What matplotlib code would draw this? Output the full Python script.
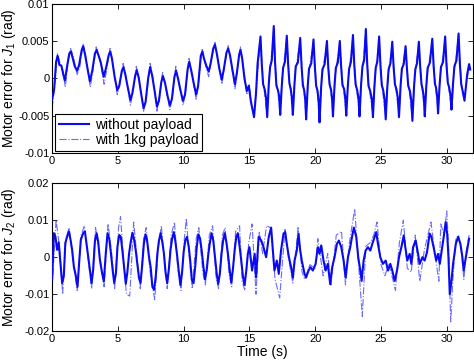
import numpy as np
import matplotlib
matplotlib.use("Agg")
import matplotlib.pyplot as plt

plt.rcParams['font.family'] = ['Liberation Sans', 'DejaVu Sans']
plt.rcParams['mathtext.fontset'] = 'custom'
plt.rcParams['mathtext.rm'] = 'Liberation Sans'
plt.rcParams['mathtext.it'] = 'Liberation Sans:italic'

# ---------------- Joint 1, without payload ----------------
t1 = [0.0, 0.15, 0.3, 0.42, 0.55, 0.7, 0.85, 0.97, 1.1, 1.3, 1.42, 1.55, 1.72, 1.9, 2.05, 2.25,
      2.36, 2.5, 2.7, 2.87, 3.05, 3.25, 3.38, 3.52, 3.7, 3.92, 4.1, 4.3, 4.42, 4.55, 4.75, 4.95,
      5.1, 5.3, 5.42, 5.55, 5.75, 5.95, 6.1, 6.3, 6.43, 6.58, 6.78, 6.95, 7.1, 7.3, 7.45, 7.6,
      7.8, 7.97, 8.12, 8.3, 8.42, 8.58, 8.78, 8.95, 9.1, 9.3, 9.42, 9.58, 9.78, 9.95, 10.1, 10.3,
      10.42, 10.58, 10.78, 10.95, 11.1, 11.3, 11.42, 11.55, 11.72, 11.9, 12.05, 12.25, 12.38,
      12.52, 12.72, 12.9, 13.05, 13.25, 13.38, 13.52, 13.72, 13.9, 14.05, 14.22, 14.32, 14.45,
      14.62, 14.8, 14.95, 15.1, 15.35, 15.5, 15.62,
      15.84, 15.94, 16.04, 16.16, 16.26, 16.35, 16.47, 16.57, 16.7,
      16.85, 16.95, 17.05, 17.17, 17.26, 17.34, 17.46, 17.56, 17.7,
      17.84, 17.94, 18.04, 18.14, 18.22, 18.3, 18.42, 18.52, 18.68,
      18.86, 18.96, 19.06, 19.16, 19.24, 19.31, 19.43, 19.53, 19.7,
      19.87, 19.97, 20.07, 20.18, 20.26, 20.33, 20.45, 20.55, 20.72,
      20.89, 20.99, 21.09, 21.2, 21.28, 21.35, 21.47, 21.57, 21.72,
      21.87, 21.97, 22.07, 22.19, 22.28, 22.36, 22.48, 22.58, 22.72,
      22.87, 22.97, 23.07, 23.19, 23.29, 23.37, 23.49, 23.59, 23.72,
      23.85, 23.95, 24.05, 24.18, 24.3, 24.39, 24.5, 24.6, 24.72,
      24.86, 24.96, 25.06, 25.17, 25.27, 25.36, 25.48, 25.58, 25.72,
      25.86, 25.96, 26.06, 26.18, 26.28, 26.37, 26.49, 26.59, 26.73,
      26.87, 26.97, 27.07, 27.2, 27.3, 27.39, 27.51, 27.61, 27.74,
      27.88, 27.98, 28.08, 28.17, 28.26, 28.33, 28.45, 28.55, 28.72,
      28.9, 29.0, 29.1, 29.19, 29.27, 29.34, 29.46, 29.56, 29.72,
      29.88, 29.98, 30.08, 30.18, 30.28, 30.36, 30.48, 30.58, 30.74,
      30.9, 31.0, 31.1, 31.22, 31.35, 31.45, 31.55, 31.7, 31.78]
j1_no_load = [-0.0028, -0.0015, 0.0022, 0.0030, 0.0018, 0.0017, 0.0005, -0.0003, 0.0012, 0.0033,
              0.0036, 0.0028, 0.0016, 0.0010, 0.0018, 0.0038, 0.0043, 0.0032, 0.0012, -0.0004,
              0.0010, 0.0033, 0.0038, 0.0031, 0.0021, 0.0002, 0.0014, 0.0031, 0.0036, 0.0026,
              0.0002, -0.0016, -0.0010, 0.0010, 0.0015, 0.0006, -0.0012, -0.0029, -0.0020,
              0.0002, 0.0011, 0.0001, -0.0022, -0.0040, -0.0032, 0.0000, 0.0015, 0.0004,
              -0.0018, -0.0038, -0.0030, -0.0005, 0.0003, -0.0006, -0.0024, -0.0036, -0.0028,
              0.0002, 0.0010, -0.0001, -0.0018, -0.0030, -0.0022, 0.0012, 0.0022, 0.0010,
              -0.0008, -0.0022, -0.0010, 0.0030, 0.0036, 0.0026, 0.0017, 0.0009, 0.0020,
              0.0040, 0.0045, 0.0033, 0.0012, -0.0002, 0.0012, 0.0034, 0.0040, 0.0031, 0.0010,
              -0.0008, 0.0008, 0.0032, 0.0038, 0.0026, 0.0000, -0.0017, -0.0010, -0.0030,
              -0.0052, -0.0020, 0.0020,
              0.0056, 0.0018, -0.0008, -0.0015, -0.0026, -0.0052, -0.0008, 0.0015, 0.0024,
              0.0070, 0.0020, -0.0010, -0.0016, -0.0024, -0.0049, -0.0010, 0.0014, 0.0022,
              0.0057, 0.0019, -0.0007, -0.0014, -0.0025, -0.0049, -0.0009, 0.0016, 0.0021,
              0.0054, 0.0017, -0.0009, -0.0016, -0.0027, -0.0055, -0.0011, 0.0013, 0.0020,
              0.0052, 0.0016, -0.0010, -0.0017, -0.0030, -0.0059, -0.0012, 0.0012, 0.0019,
              0.0050, 0.0015, -0.0008, -0.0015, -0.0026, -0.0051, -0.0009, 0.0014, 0.0021,
              0.0050, 0.0016, -0.0009, -0.0014, -0.0025, -0.0050, -0.0010, 0.0013, 0.0022,
              0.0058, 0.0018, -0.0008, -0.0016, -0.0026, -0.0051, -0.0008, 0.0016, 0.0024,
              0.0066, 0.0020, -0.0010, -0.0017, -0.0027, -0.0052, -0.0011, 0.0014, 0.0022,
              0.0056, 0.0017, -0.0009, -0.0016, -0.0028, -0.0055, -0.0012, 0.0012, 0.0020,
              0.0049, 0.0015, -0.0008, -0.0015, -0.0026, -0.0052, -0.0010, 0.0013, 0.0019,
              0.0043, 0.0014, -0.0010, -0.0017, -0.0029, -0.0057, -0.0012, 0.0012, 0.0020,
              0.0049, 0.0016, -0.0008, -0.0015, -0.0026, -0.0051, -0.0009, 0.0014, 0.0021,
              0.0053, 0.0017, -0.0007, -0.0013, -0.0024, -0.0047, -0.0008, 0.0015, 0.0022,
              0.0056, 0.0018, -0.0006, -0.0012, -0.0022, -0.0042, -0.0007, 0.0016, 0.0024,
              0.0060, 0.0019, -0.0008, -0.0018, -0.0030, -0.0012, 0.0005, 0.0019, 0.0012]

# ---------------- Joint 1, with 1 kg payload ----------------
t1_load = [0.0, 0.2, 0.4, 0.6, 0.8, 1.0, 1.2, 1.4, 1.6, 1.9, 2.1, 2.35, 2.55, 2.9, 3.1, 3.35,
           3.6, 3.95, 4.15, 4.4, 4.6, 4.95, 5.15, 5.4, 5.6, 5.95, 6.15, 6.4, 6.6, 6.95, 7.15,
           7.45, 7.65, 7.97, 8.15, 8.4, 8.6, 8.95, 9.15, 9.4, 9.6, 9.95, 10.15, 10.4, 10.6,
           10.95, 11.15, 11.4, 11.6, 11.9, 12.1, 12.38, 12.55, 12.9, 13.1, 13.38, 13.55, 13.9,
           14.1, 14.32, 14.5, 14.8, 15.0, 15.15, 15.35, 15.55,
           15.84, 16.04, 16.16, 16.33, 16.51, 16.65,
           16.85, 17.05, 17.17, 17.32, 17.5, 17.64,
           17.84, 18.04, 18.15, 18.29, 18.47, 18.62,
           18.86, 19.06, 19.17, 19.31, 19.49, 19.64,
           19.87, 20.07, 20.18, 20.33, 20.51, 20.66,
           20.89, 21.09, 21.2, 21.35, 21.53, 21.67,
           21.87, 22.07, 22.19, 22.36, 22.54, 22.67,
           22.87, 23.07, 23.19, 23.37, 23.55, 23.68,
           23.85, 24.05, 24.18, 24.39, 24.56, 24.69,
           24.86, 25.06, 25.17, 25.36, 25.54, 25.68,
           25.86, 26.06, 26.18, 26.37, 26.55, 26.69,
           26.87, 27.07, 27.2, 27.39, 27.57, 27.7,
           27.88, 28.08, 28.17, 28.33, 28.51, 28.68,
           28.9, 29.1, 29.19, 29.34, 29.52, 29.68,
           29.88, 30.08, 30.18, 30.36, 30.54, 30.7,
           30.9, 31.1, 31.3, 31.5, 31.7, 31.78]
j1_load = [-0.0040, -0.0010, 0.0034, 0.0020, 0.0012, -0.0012, 0.0020, 0.0040, 0.0030, 0.0005,
           0.0015, 0.0046, 0.0030, -0.0012, 0.0010, 0.0042, 0.0028, -0.0008, 0.0012, 0.0040,
           0.0022, -0.0022, -0.0008, 0.0020, 0.0004, -0.0036, -0.0018, 0.0016, 0.0000,
           -0.0044, -0.0028, 0.0020, 0.0002, -0.0044, -0.0026, 0.0008, -0.0010, -0.0042,
           -0.0024, 0.0016, -0.0004, -0.0036, -0.0018, 0.0028, 0.0008, -0.0028, -0.0004,
           0.0040, 0.0022, 0.0002, 0.0024, 0.0048, 0.0030, -0.0008, 0.0016, 0.0044, 0.0028,
           -0.0014, 0.0012, 0.0042, 0.0022, -0.0022, -0.0008, -0.0036, -0.0048, -0.0012,
           0.0053, -0.0004, -0.0022, -0.0049, 0.0006, 0.0027,
           0.0066, -0.0006, -0.0020, -0.0046, 0.0004, 0.0025,
           0.0054, -0.0003, -0.0021, -0.0046, 0.0007, 0.0024,
           0.0051, -0.0005, -0.0023, -0.0052, 0.0003, 0.0023,
           0.0049, -0.0006, -0.0025, -0.0056, 0.0002, 0.0022,
           0.0047, -0.0004, -0.0021, -0.0048, 0.0005, 0.0024,
           0.0047, -0.0005, -0.0020, -0.0047, 0.0004, 0.0025,
           0.0055, -0.0004, -0.0022, -0.0048, 0.0006, 0.0027,
           0.0062, -0.0006, -0.0023, -0.0049, 0.0003, 0.0025,
           0.0053, -0.0005, -0.0024, -0.0052, 0.0002, 0.0023,
           0.0046, -0.0004, -0.0021, -0.0049, 0.0004, 0.0022,
           0.0041, -0.0006, -0.0025, -0.0054, 0.0002, 0.0023,
           0.0046, -0.0004, -0.0021, -0.0048, 0.0005, 0.0024,
           0.0050, -0.0003, -0.0019, -0.0044, 0.0006, 0.0025,
           0.0053, -0.0002, -0.0018, -0.0040, 0.0007, 0.0027,
           0.0057, -0.0005, -0.0026, -0.0008, 0.0016, 0.0010]

# ---------------- Joint 2, without payload ----------------
t2 = [0.0, 0.13, 0.25, 0.38, 0.5, 0.63, 0.76, 0.89, 1.0, 1.14, 1.27, 1.4, 1.52, 1.65, 1.8,
      1.93, 2.05, 2.18, 2.36, 2.49, 2.61, 2.74, 2.87, 3.0, 3.12, 3.25, 3.38, 3.5, 3.63, 3.8,
      3.93, 4.06, 4.21, 4.34, 4.47, 4.6, 4.72, 4.85, 4.97,
      5.1, 5.22, 5.35, 5.48, 5.6, 5.72, 5.85, 5.97, 6.1, 6.22, 6.35, 6.48, 6.6, 6.72, 6.85,
      6.97, 7.1, 7.22, 7.35, 7.5, 7.62, 7.75, 7.88, 8.0, 8.12, 8.25, 8.38, 8.5, 8.62, 8.75,
      8.88, 9.0, 9.12, 9.25, 9.38, 9.5, 9.62, 9.75, 9.88, 10.0, 10.12, 10.25, 10.38, 10.5,
      10.62, 10.75, 10.88, 11.0, 11.12, 11.25, 11.38, 11.5, 11.62, 11.75, 11.88, 12.0, 12.12,
      12.25, 12.38, 12.5, 12.62, 12.75, 12.88, 13.0, 13.12, 13.25, 13.38, 13.5, 13.62, 13.75,
      13.88, 14.0, 14.12, 14.25, 14.38, 14.5, 14.62, 14.75, 14.88, 15.0,
      15.2, 15.4, 15.5, 15.7, 15.9, 16.07, 16.27, 16.47, 16.65, 16.78, 16.9, 17.08, 17.23,
      17.4, 17.59, 17.72, 17.84, 18.0, 18.17, 18.3, 18.43, 18.6, 18.73, 18.86, 18.98, 19.19,
      19.31, 19.49, 19.64, 19.82, 20.03, 20.2, 20.33, 20.46, 20.63, 20.79, 20.96, 21.14,
      21.29, 21.47, 21.65, 21.8, 21.98, 22.16, 22.31, 22.49, 22.66, 22.82, 22.94, 23.12,
      23.27, 23.43, 23.53, 23.68, 23.83, 24.01, 24.19, 24.34, 24.52, 24.64, 24.77, 24.95,
      25.15, 25.36, 25.53, 25.71, 25.86, 26.04, 26.22, 26.37, 26.55, 26.73, 26.85, 27.0,
      27.18, 27.31, 27.44, 27.64, 27.82, 27.94, 28.15, 28.32, 28.5, 28.7, 28.83, 29.0, 29.2,
      29.34, 29.47, 29.62, 29.77, 29.92, 30.03, 30.13, 30.23, 30.36, 30.48, 30.69, 30.86,
      31.04, 31.19, 31.29, 31.45, 31.7]
j2_no_load = [-0.0060, 0.0065, 0.0056, 0.0020, 0.0040, -0.0016, -0.0070, -0.0050, 0.0038,
              0.0056, 0.0070, 0.0047, 0.0020, -0.0025, -0.0050, -0.0080, -0.0016, 0.0047,
              0.0065, 0.0070, 0.0038, 0.0002, -0.0034, -0.0070, -0.0034, 0.0042, 0.0065,
              0.0042, -0.0007, -0.0043, -0.0066, 0.0002, 0.0065, 0.0050, 0.0010, -0.0034,
              -0.0070, -0.0043, 0.0029,
              0.0060, 0.0055, 0.0015, -0.0030, -0.0072, -0.0040, 0.0010, 0.0040, 0.0066,
              0.0050, 0.0020, -0.0020, -0.0055, -0.0070, -0.0020, 0.0035, 0.0062, 0.0045,
              0.0005, -0.0030, -0.0080, -0.0088, -0.0050, 0.0010, 0.0045, 0.0065, 0.0040,
              0.0010, -0.0040, -0.0070, -0.0030, 0.0020, 0.0050, 0.0068, 0.0040, 0.0005,
              -0.0035, -0.0075, -0.0040, 0.0015, 0.0045, 0.0055, 0.0030, -0.0010, -0.0060,
              -0.0070, -0.0025, 0.0030, 0.0062, 0.0050, 0.0015, -0.0025, -0.0060, -0.0035,
              0.0010, 0.0040, 0.0065, 0.0045, 0.0000, -0.0040, -0.0072, -0.0045, 0.0010,
              0.0045, 0.0065, 0.0040, 0.0005, -0.0035, -0.0068, -0.0030, 0.0020, 0.0055,
              0.0065, 0.0030, -0.0010, -0.0050, -0.0075, -0.0040, 0.0010, 0.0027,
              -0.0036, 0.0009, -0.0055, 0.0055, 0.0045, 0.0027, 0.0000, 0.0055, 0.0080,
              0.0018, -0.0036, -0.0009, -0.0045, 0.0018, 0.0064, 0.0068, 0.0036, 0.0000,
              -0.0027, -0.0055, -0.0009, 0.0018, 0.0064, 0.0018, -0.0009, -0.0045, -0.0055,
              -0.0036, -0.0027, -0.0036, -0.0018, 0.0027, 0.0009, 0.0032, -0.0009, -0.0036,
              -0.0018, -0.0073, -0.0027, 0.0000, 0.0036, 0.0045, 0.0027, -0.0009, -0.0055,
              0.0000, 0.0027, 0.0059, 0.0080, 0.0055, 0.0000, -0.0036, -0.0064, -0.0009,
              0.0018, 0.0027, 0.0018, 0.0036, 0.0055, 0.0068, 0.0036, 0.0000, -0.0018,
              -0.0009, -0.0036, -0.0018, -0.0036, -0.0064, -0.0036, 0.0000, 0.0027, 0.0059,
              0.0027, -0.0009, 0.0009, -0.0018, 0.0027, 0.0045, 0.0009, -0.0018, 0.0000,
              -0.0009, 0.0014, 0.0064, 0.0055, 0.0027, -0.0009, 0.0009, -0.0018, 0.0018,
              0.0055, 0.0095, 0.0064, 0.0000, -0.0100, -0.0064, -0.0018, 0.0036, 0.0055,
              0.0036, 0.0000, -0.0036, 0.0000, 0.0050]

# ---------------- Joint 2, with 1 kg payload ----------------
t2_load = [0.0, 0.3, 0.55, 0.8, 1.05, 1.3, 1.55, 1.9, 2.2, 2.45, 2.75, 3.0, 3.3, 3.6, 3.95,
           4.25, 4.5, 4.75, 5.05, 5.2, 5.45, 5.65, 5.9, 6.2, 6.45, 6.7, 6.95, 7.15, 7.45, 7.8,
           8.05, 8.3, 8.55, 8.75, 9.05, 9.3, 9.55, 9.8, 10.05, 10.2, 10.45, 10.65, 10.95, 11.15,
           11.45, 11.65, 11.95, 12.2, 12.45, 12.65, 12.95, 13.15, 13.45, 13.65, 13.95, 14.25,
           14.45, 14.65, 14.95, 15.2, 15.5, 15.75, 16.0, 16.3, 16.6, 16.95, 17.3, 17.7, 18.0,
           18.3, 18.7, 19.0, 19.2, 19.6, 20.0, 20.2, 20.6, 20.95, 21.2, 21.6, 22.0, 22.3,
           22.6, 23.0, 23.3, 23.58, 23.85, 24.2, 24.45, 24.7, 25.0, 25.3, 25.6, 25.9, 26.1,
           26.4, 26.7, 27.0, 27.3, 27.6, 27.95, 28.3, 28.8, 29.1, 29.4, 29.55, 29.8, 30.0,
           30.15, 30.3, 30.5, 30.7, 30.9, 31.1, 31.3, 31.5, 31.7]
j2_load = [-0.0080, 0.0100, 0.0030, -0.0100, 0.0050, 0.0080, 0.0000, -0.0090, 0.0060,
           0.0085, -0.0010, -0.0085, 0.0080, 0.0010, -0.0080, 0.0090, 0.0020, -0.0085,
           0.0080, 0.0110, -0.0020, -0.0100, -0.0105, 0.0095, 0.0000, -0.0085, 0.0050,
           0.0080, -0.0040, -0.0115, 0.0020, 0.0085, -0.0020, -0.0085, 0.0060, 0.0095,
           -0.0030, -0.0090, 0.0050, 0.0105, -0.0010, -0.0085, 0.0050, 0.0080, -0.0040,
           -0.0075, 0.0060, 0.0085, -0.0050, -0.0085, 0.0060, 0.0080, -0.0045, -0.0080,
           0.0070, 0.0085, -0.0065, -0.0090, 0.0040, 0.0090, -0.0100, 0.0070, 0.0010,
           0.0085, 0.0080, -0.0060, -0.0110, 0.0075, -0.0010, -0.0070, 0.0080, -0.0040,
           -0.0060, -0.0020, -0.0030, 0.0050, -0.0050, 0.0010, -0.0075, 0.0060, 0.0070,
           -0.0075, 0.0040, 0.0130, -0.0020, -0.0160, 0.0030, 0.0040, 0.0060, 0.0095,
           -0.0020, -0.0050, -0.0020, -0.0060, -0.0090, 0.0040, 0.0100, -0.0030, -0.0040,
           0.0060, -0.0065, 0.0020, 0.0095, 0.0010, -0.0065, 0.0090, 0.0060, 0.0125,
           0.0020, -0.0175, -0.0040, 0.0050, 0.0060, 0.0020, -0.0060, 0.0020, 0.0060]

x_ticks = [0, 5, 10, 15, 20, 25, 30]
j1_ticks = [-0.01, -0.005, 0, 0.005, 0.01]
j1_tick_labels = ['-0.01', '-0.005', '0', '0.005', '0.01']
j2_ticks = [-0.02, -0.01, 0, 0.01, 0.02]
j2_tick_labels = ['-0.02', '-0.01', '0', '0.01', '0.02']

solid_color = '#0a0af0'
dash_color = '#6a6aff'

fig = plt.figure(figsize=(4.74, 3.6), dpi=100)
ax1 = fig.add_axes([0.110, 0.575, 0.888, 0.415])
ax2 = fig.add_axes([0.110, 0.080, 0.888, 0.411])

ax1.plot(t1_load, j1_load, color=dash_color, lw=0.8, ls='-.', zorder=2)
ax1.plot(t1, j1_no_load, color=solid_color, lw=1.5, zorder=3)
ax2.plot(t2_load, j2_load, color=dash_color, lw=0.8, ls='-.', zorder=2)
ax2.plot(t2, j2_no_load, color=solid_color, lw=1.5, zorder=3)

# legend handles in the same order as the original
h1, = ax1.plot([], [], color=solid_color, lw=1.5)
h2, = ax1.plot([], [], color=dash_color, lw=0.8, ls='-.')
leg = ax1.legend([h1, h2], ['without payload', 'with 1kg payload'], loc='lower left',
                 bbox_to_anchor=(0.007, 0.015), borderaxespad=0, fontsize=10,
                 handlelength=2.2, handletextpad=0.4, labelspacing=0.1, borderpad=0.25,
                 fancybox=False, framealpha=1)
leg.get_frame().set_edgecolor('black')
leg.get_frame().set_linewidth(0.8)

for ax, yt, ytl, lim in [(ax1, j1_ticks, j1_tick_labels, (-0.01, 0.01)),
                         (ax2, j2_ticks, j2_tick_labels, (-0.02, 0.02))]:
    ax.set_xlim(0, 32)
    ax.set_ylim(*lim)
    ax.set_xticks(x_ticks)
    ax.set_yticks(yt)
    ax.set_yticklabels(ytl)
    ax.tick_params(direction='in', top=True, right=True, length=3.5, width=0.6,
                   labelsize=8, pad=2)
    for s in ax.spines.values():
        s.set_linewidth(0.8)
    ax.yaxis.set_label_coords(-0.082, 0.5)

ax1.set_ylabel(r'Motor error for $J_1$ (rad)', fontsize=10)
ax2.set_ylabel(r'Motor error for $J_2$ (rad)', fontsize=10)
ax2.set_xlabel('Time (s)', fontsize=10, labelpad=1)

fig.savefig('out.png', dpi=100)
